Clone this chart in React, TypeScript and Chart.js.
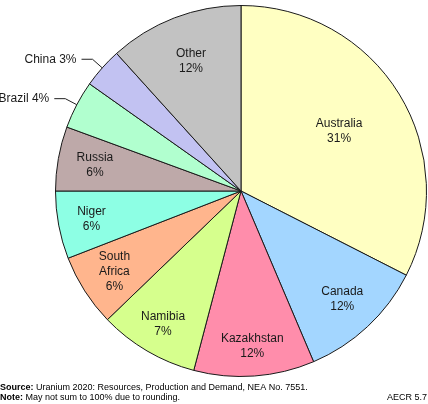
import React, { useEffect, useRef } from "react";
import { Chart, registerables } from "chart.js";

Chart.register(...registerables);

const countries = ["Australia", "Canada", "Kazakhstan", "Namibia", "South\nAfrica", "Niger", "Russia", "Brazil", "China", "Other"];
const shares = [32.5, 11.1, 10.5, 8.7, 6.3, 5.9, 5.6, 4.2, 3.5, 11.7];
const labelPct = ["31%", "12%", "12%", "7%", "6%", "6%", "6%", "4%", "3%", "12%"];
const outsideLabel = [false, false, false, false, false, false, false, true, true, false];
const labelRadius = [0.62, 0.8, 0.84, 0.83, 0.81, 0.82, 0.8, 0.8, 0.8, 0.75];
const colors = ["#FFFFC2", "#A3D6FF", "#FF8DAB", "#D6FF8D", "#FFB58D", "#8DFFE4", "#BEA9A9", "#B1FFCF", "#C2C2F2", "#C2C2C2"];

const FONT = "'Liberation Sans', Arial, Helvetica, sans-serif";

const labelPlugin = {
  id: "sliceLabels",
  afterDatasetsDraw(chart: any) {
    const ctx = chart.ctx;
    const meta = chart.getDatasetMeta(0);
    ctx.save();
    ctx.fillStyle = "#1a1a1a";
    ctx.font = `12px ${FONT}`;
    meta.data.forEach((arc: any, i: number) => {
      const p = arc.getProps(["x", "y", "startAngle", "endAngle", "outerRadius"], true);
      const mid = (p.startAngle + p.endAngle) / 2;
      const cos = Math.cos(mid);
      const sin = Math.sin(mid);
      if (outsideLabel[i]) {
        const ex = p.x + p.outerRadius * cos;
        const ey = p.y + p.outerRadius * sin;
        const kx = ex + 13 * cos;
        const ky = ey + 13 * sin;
        const hx = kx - 11;
        ctx.strokeStyle = "#222";
        ctx.lineWidth = 1;
        ctx.beginPath();
        ctx.moveTo(ex, ey);
        ctx.lineTo(kx, ky);
        ctx.lineTo(hx, ky);
        ctx.stroke();
        ctx.textAlign = "right";
        ctx.textBaseline = "middle";
        ctx.fillText(`${countries[i]} ${labelPct[i]}`, hx - 5, ky);
      } else {
        const r = p.outerRadius * labelRadius[i];
        const cx = p.x + r * cos;
        const cy = p.y + r * sin;
        const lines = [...countries[i].split("\n"), labelPct[i]];
        const lh = 15;
        const y0 = cy - ((lines.length - 1) * lh) / 2;
        ctx.textAlign = "center";
        ctx.textBaseline = "middle";
        lines.forEach((t, j) => ctx.fillText(t, cx, y0 + j * lh));
      }
    });
    // footer
    ctx.textBaseline = "alphabetic";
    ctx.textAlign = "left";
    ctx.fillStyle = "#000";
    const drawPair = (bold: string, rest: string, y: number) => {
      ctx.font = `bold 9px ${FONT}`;
      ctx.fillText(bold, 0, y);
      const w = ctx.measureText(bold + " ").width;
      ctx.font = `9px ${FONT}`;
      ctx.fillText(rest, w, y);
    };
    drawPair("Source:", "Uranium 2020: Resources, Production and Demand, NEA No. 7551.", 389.5);
    drawPair("Note:", "May not sum to 100% due to rounding.", 400);
    ctx.textAlign = "right";
    ctx.font = `9px ${FONT}`;
    ctx.fillText("AECR 5.7", 427, 400);
    ctx.restore();
  },
};

export default function App() {
  const ref = useRef<HTMLCanvasElement | null>(null);
  useEffect(() => {
    if (!ref.current) return;
    const chart = new Chart(ref.current, {
      type: "pie",
      data: {
        labels: countries.map((c) => c.replace("\n", " ")),
        datasets: [
          {
            data: shares,
            backgroundColor: colors,
            borderColor: "#1a1a1a",
            borderWidth: 1,
          },
        ],
      },
      options: {
        responsive: false,
        animation: false,
        layout: { padding: { left: 55, right: 1, top: 5, bottom: 27 } },
        plugins: {
          legend: { display: false },
          tooltip: { enabled: false },
        },
      },
      plugins: [labelPlugin],
    });
    return () => chart.destroy();
  }, []);
  return (
    <div style={{ position: "absolute", left: 0, top: 0, width: 428, height: 404, background: "#fff" }}>
      <canvas ref={ref} width={428} height={404} />
    </div>
  );
}
